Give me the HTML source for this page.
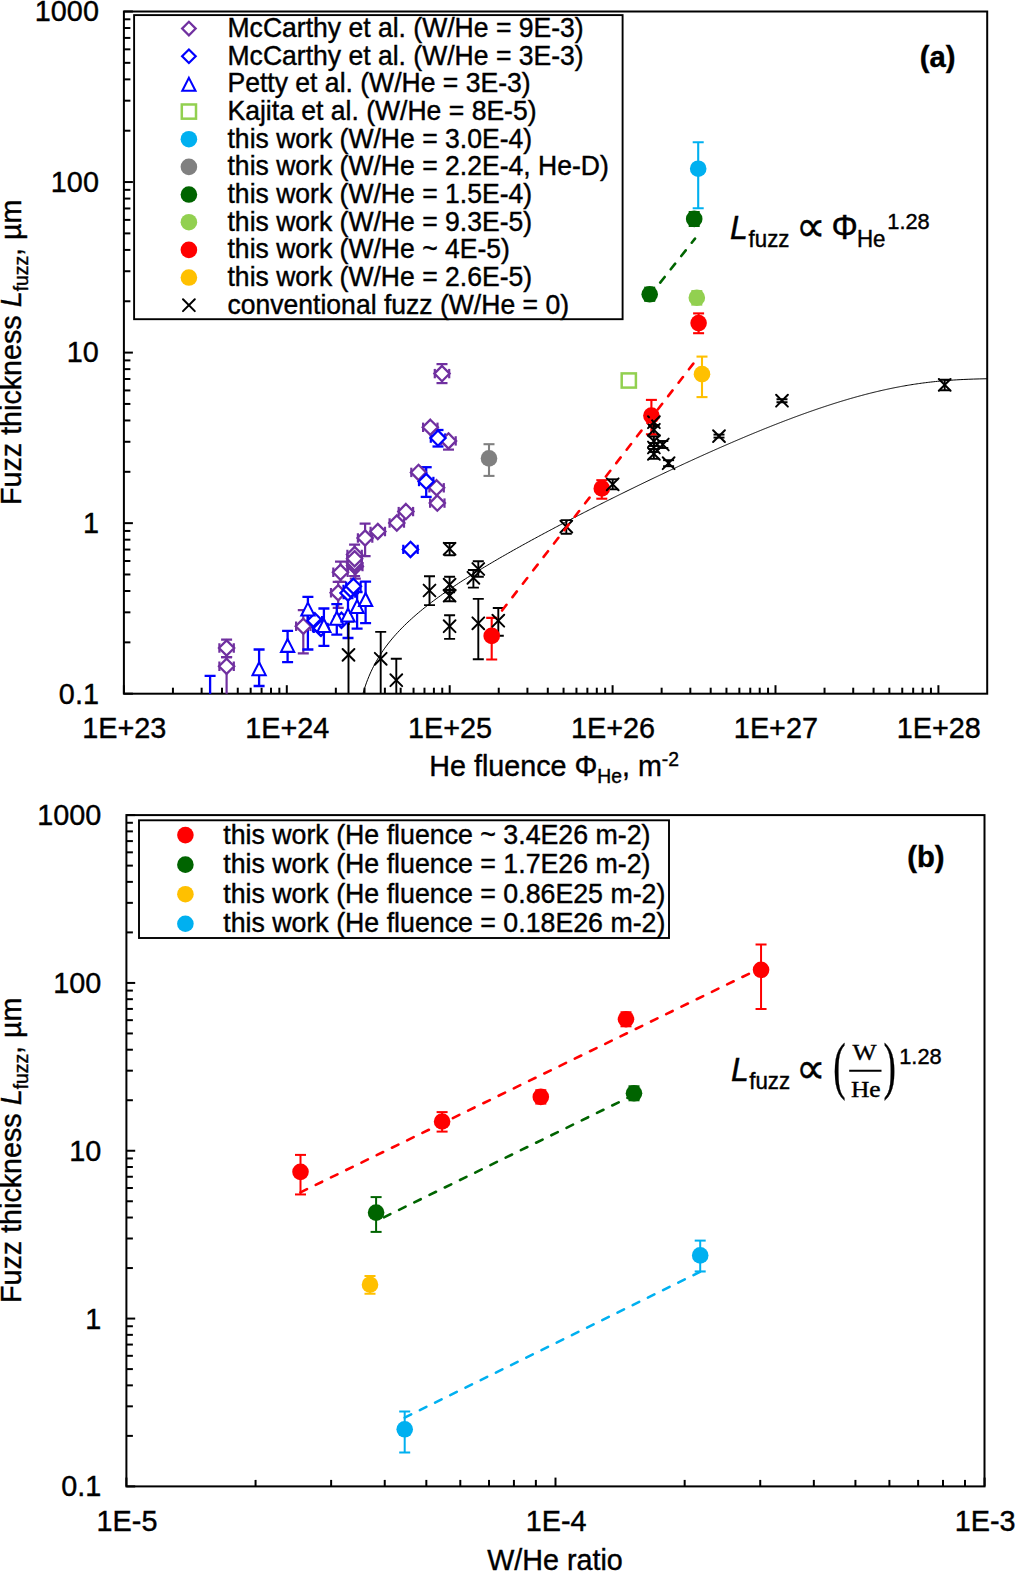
<!DOCTYPE html>
<html lang="en"><head><meta charset="utf-8"><title>Fuzz thickness vs He fluence and W/He ratio</title>
<style>html,body{margin:0;padding:0;background:#fff}svg{display:block}text{font-family:"Liberation Sans", Arial, Helvetica, sans-serif;fill:#000;stroke:#000;stroke-width:0.4px}</style></head><body>
<svg width="1025" height="1572" viewBox="0 0 1025 1572">
<rect width="1025" height="1572" fill="#fff"/>
<g id="plot-a">
<clipPath id="clipA"><rect x="123.9" y="11.5" width="863.3000000000001" height="682.2"/></clipPath>
<rect x="123.9" y="11.5" width="863.3" height="682.2" fill="none" stroke="#000" stroke-width="2.0"/>
<line x1="123.9" y1="11.5" x2="132.9" y2="11.5" stroke="#000" stroke-width="2.0" />
<line x1="123.9" y1="130.71" x2="130.4" y2="130.71" stroke="#000" stroke-width="2.0" />
<line x1="123.9" y1="100.68" x2="130.4" y2="100.68" stroke="#000" stroke-width="2.0" />
<line x1="123.9" y1="79.37" x2="130.4" y2="79.37" stroke="#000" stroke-width="2.0" />
<line x1="123.9" y1="62.84" x2="130.4" y2="62.84" stroke="#000" stroke-width="2.0" />
<line x1="123.9" y1="49.34" x2="130.4" y2="49.34" stroke="#000" stroke-width="2.0" />
<line x1="123.9" y1="37.92" x2="130.4" y2="37.92" stroke="#000" stroke-width="2.0" />
<line x1="123.9" y1="28.03" x2="130.4" y2="28.03" stroke="#000" stroke-width="2.0" />
<line x1="123.9" y1="19.3" x2="130.4" y2="19.3" stroke="#000" stroke-width="2.0" />
<line x1="123.9" y1="182.05" x2="132.9" y2="182.05" stroke="#000" stroke-width="2.0" />
<line x1="123.9" y1="301.26" x2="130.4" y2="301.26" stroke="#000" stroke-width="2.0" />
<line x1="123.9" y1="271.23" x2="130.4" y2="271.23" stroke="#000" stroke-width="2.0" />
<line x1="123.9" y1="249.92" x2="130.4" y2="249.92" stroke="#000" stroke-width="2.0" />
<line x1="123.9" y1="233.39" x2="130.4" y2="233.39" stroke="#000" stroke-width="2.0" />
<line x1="123.9" y1="219.89" x2="130.4" y2="219.89" stroke="#000" stroke-width="2.0" />
<line x1="123.9" y1="208.47" x2="130.4" y2="208.47" stroke="#000" stroke-width="2.0" />
<line x1="123.9" y1="198.58" x2="130.4" y2="198.58" stroke="#000" stroke-width="2.0" />
<line x1="123.9" y1="189.85" x2="130.4" y2="189.85" stroke="#000" stroke-width="2.0" />
<line x1="123.9" y1="352.6" x2="132.9" y2="352.6" stroke="#000" stroke-width="2.0" />
<line x1="123.9" y1="471.81" x2="130.4" y2="471.81" stroke="#000" stroke-width="2.0" />
<line x1="123.9" y1="441.78" x2="130.4" y2="441.78" stroke="#000" stroke-width="2.0" />
<line x1="123.9" y1="420.47" x2="130.4" y2="420.47" stroke="#000" stroke-width="2.0" />
<line x1="123.9" y1="403.94" x2="130.4" y2="403.94" stroke="#000" stroke-width="2.0" />
<line x1="123.9" y1="390.44" x2="130.4" y2="390.44" stroke="#000" stroke-width="2.0" />
<line x1="123.9" y1="379.02" x2="130.4" y2="379.02" stroke="#000" stroke-width="2.0" />
<line x1="123.9" y1="369.13" x2="130.4" y2="369.13" stroke="#000" stroke-width="2.0" />
<line x1="123.9" y1="360.4" x2="130.4" y2="360.4" stroke="#000" stroke-width="2.0" />
<line x1="123.9" y1="523.15" x2="132.9" y2="523.15" stroke="#000" stroke-width="2.0" />
<line x1="123.9" y1="642.36" x2="130.4" y2="642.36" stroke="#000" stroke-width="2.0" />
<line x1="123.9" y1="612.33" x2="130.4" y2="612.33" stroke="#000" stroke-width="2.0" />
<line x1="123.9" y1="591.02" x2="130.4" y2="591.02" stroke="#000" stroke-width="2.0" />
<line x1="123.9" y1="574.49" x2="130.4" y2="574.49" stroke="#000" stroke-width="2.0" />
<line x1="123.9" y1="560.99" x2="130.4" y2="560.99" stroke="#000" stroke-width="2.0" />
<line x1="123.9" y1="549.57" x2="130.4" y2="549.57" stroke="#000" stroke-width="2.0" />
<line x1="123.9" y1="539.68" x2="130.4" y2="539.68" stroke="#000" stroke-width="2.0" />
<line x1="123.9" y1="530.95" x2="130.4" y2="530.95" stroke="#000" stroke-width="2.0" />
<line x1="123.9" y1="693.7" x2="132.9" y2="693.7" stroke="#000" stroke-width="2.0" />
<line x1="123.9" y1="693.7" x2="123.9" y2="685.2" stroke="#000" stroke-width="2.0" />
<line x1="172.94" y1="693.7" x2="172.94" y2="687.7" stroke="#000" stroke-width="2.0" />
<line x1="201.62" y1="693.7" x2="201.62" y2="687.7" stroke="#000" stroke-width="2.0" />
<line x1="221.98" y1="693.7" x2="221.98" y2="687.7" stroke="#000" stroke-width="2.0" />
<line x1="237.76" y1="693.7" x2="237.76" y2="687.7" stroke="#000" stroke-width="2.0" />
<line x1="250.66" y1="693.7" x2="250.66" y2="687.7" stroke="#000" stroke-width="2.0" />
<line x1="261.57" y1="693.7" x2="261.57" y2="687.7" stroke="#000" stroke-width="2.0" />
<line x1="271.01" y1="693.7" x2="271.01" y2="687.7" stroke="#000" stroke-width="2.0" />
<line x1="279.35" y1="693.7" x2="279.35" y2="687.7" stroke="#000" stroke-width="2.0" />
<line x1="286.8" y1="693.7" x2="286.8" y2="685.2" stroke="#000" stroke-width="2.0" />
<line x1="335.84" y1="693.7" x2="335.84" y2="687.7" stroke="#000" stroke-width="2.0" />
<line x1="364.52" y1="693.7" x2="364.52" y2="687.7" stroke="#000" stroke-width="2.0" />
<line x1="384.88" y1="693.7" x2="384.88" y2="687.7" stroke="#000" stroke-width="2.0" />
<line x1="400.66" y1="693.7" x2="400.66" y2="687.7" stroke="#000" stroke-width="2.0" />
<line x1="413.56" y1="693.7" x2="413.56" y2="687.7" stroke="#000" stroke-width="2.0" />
<line x1="424.47" y1="693.7" x2="424.47" y2="687.7" stroke="#000" stroke-width="2.0" />
<line x1="433.91" y1="693.7" x2="433.91" y2="687.7" stroke="#000" stroke-width="2.0" />
<line x1="442.25" y1="693.7" x2="442.25" y2="687.7" stroke="#000" stroke-width="2.0" />
<line x1="449.7" y1="693.7" x2="449.7" y2="685.2" stroke="#000" stroke-width="2.0" />
<line x1="498.74" y1="693.7" x2="498.74" y2="687.7" stroke="#000" stroke-width="2.0" />
<line x1="527.42" y1="693.7" x2="527.42" y2="687.7" stroke="#000" stroke-width="2.0" />
<line x1="547.78" y1="693.7" x2="547.78" y2="687.7" stroke="#000" stroke-width="2.0" />
<line x1="563.56" y1="693.7" x2="563.56" y2="687.7" stroke="#000" stroke-width="2.0" />
<line x1="576.46" y1="693.7" x2="576.46" y2="687.7" stroke="#000" stroke-width="2.0" />
<line x1="587.37" y1="693.7" x2="587.37" y2="687.7" stroke="#000" stroke-width="2.0" />
<line x1="596.81" y1="693.7" x2="596.81" y2="687.7" stroke="#000" stroke-width="2.0" />
<line x1="605.15" y1="693.7" x2="605.15" y2="687.7" stroke="#000" stroke-width="2.0" />
<line x1="612.6" y1="693.7" x2="612.6" y2="685.2" stroke="#000" stroke-width="2.0" />
<line x1="661.64" y1="693.7" x2="661.64" y2="687.7" stroke="#000" stroke-width="2.0" />
<line x1="690.32" y1="693.7" x2="690.32" y2="687.7" stroke="#000" stroke-width="2.0" />
<line x1="710.68" y1="693.7" x2="710.68" y2="687.7" stroke="#000" stroke-width="2.0" />
<line x1="726.46" y1="693.7" x2="726.46" y2="687.7" stroke="#000" stroke-width="2.0" />
<line x1="739.36" y1="693.7" x2="739.36" y2="687.7" stroke="#000" stroke-width="2.0" />
<line x1="750.27" y1="693.7" x2="750.27" y2="687.7" stroke="#000" stroke-width="2.0" />
<line x1="759.71" y1="693.7" x2="759.71" y2="687.7" stroke="#000" stroke-width="2.0" />
<line x1="768.05" y1="693.7" x2="768.05" y2="687.7" stroke="#000" stroke-width="2.0" />
<line x1="775.5" y1="693.7" x2="775.5" y2="685.2" stroke="#000" stroke-width="2.0" />
<line x1="824.54" y1="693.7" x2="824.54" y2="687.7" stroke="#000" stroke-width="2.0" />
<line x1="853.22" y1="693.7" x2="853.22" y2="687.7" stroke="#000" stroke-width="2.0" />
<line x1="873.58" y1="693.7" x2="873.58" y2="687.7" stroke="#000" stroke-width="2.0" />
<line x1="889.36" y1="693.7" x2="889.36" y2="687.7" stroke="#000" stroke-width="2.0" />
<line x1="902.26" y1="693.7" x2="902.26" y2="687.7" stroke="#000" stroke-width="2.0" />
<line x1="913.17" y1="693.7" x2="913.17" y2="687.7" stroke="#000" stroke-width="2.0" />
<line x1="922.61" y1="693.7" x2="922.61" y2="687.7" stroke="#000" stroke-width="2.0" />
<line x1="930.95" y1="693.7" x2="930.95" y2="687.7" stroke="#000" stroke-width="2.0" />
<line x1="938.4" y1="693.7" x2="938.4" y2="685.2" stroke="#000" stroke-width="2.0" />
<text transform="translate(98.9 21.3) scale(1 1.04)" font-size="28.8" text-anchor="end" >1000</text>
<text transform="translate(98.9 191.85) scale(1 1.04)" font-size="28.8" text-anchor="end" >100</text>
<text transform="translate(98.9 362.4) scale(1 1.04)" font-size="28.8" text-anchor="end" >10</text>
<text transform="translate(98.9 532.95) scale(1 1.04)" font-size="28.8" text-anchor="end" >1</text>
<text transform="translate(98.9 703.5) scale(1 1.04)" font-size="28.8" text-anchor="end" >0.1</text>
<text transform="translate(124.3 738.4) scale(1 1.04)" font-size="28.8" text-anchor="middle" >1E+23</text>
<text transform="translate(287.2 738.4) scale(1 1.04)" font-size="28.8" text-anchor="middle" >1E+24</text>
<text transform="translate(450.1 738.4) scale(1 1.04)" font-size="28.8" text-anchor="middle" >1E+25</text>
<text transform="translate(613 738.4) scale(1 1.04)" font-size="28.8" text-anchor="middle" >1E+26</text>
<text transform="translate(775.9 738.4) scale(1 1.04)" font-size="28.8" text-anchor="middle" >1E+27</text>
<text transform="translate(938.8 738.4) scale(1 1.04)" font-size="28.8" text-anchor="middle" >1E+28</text>
<text transform="translate(429.3 775.5) scale(1 1.04)" font-size="28.7">He fluence Φ<tspan font-size="19.3" dy="6.8">He</tspan><tspan dy="-6.8">, m</tspan><tspan font-size="19.3" dy="-8.7">-2</tspan></text>
<text transform="translate(20.8 505) rotate(-90) scale(1 1.04)" font-size="28.7">Fuzz thickness <tspan font-style="italic">L</tspan><tspan font-size="19.3" dy="7.3">fuzz</tspan><tspan dy="-7.3">, µm</tspan></text>
<path clip-path="url(#clipA)" d="M360.29 704.19L361.08 700.78L361.91 697.46L362.78 694.24L363.69 691.11L364.64 688.06L365.63 685.1L366.65 682.21L367.72 679.4L368.83 676.66L369.97 673.98L371.15 671.37L372.37 668.81L373.62 666.32L374.9 663.87L376.22 661.48L377.58 659.15L378.96 656.85L380.37 654.61L381.82 652.41L383.29 650.25L384.79 648.14L386.31 646.06L387.86 644.02L389.43 642.02L391.03 640.05L392.65 638.12L394.28 636.22L395.94 634.35L397.61 632.52L399.3 630.71L401.01 628.93L402.72 627.18L404.46 625.46L406.2 623.76L407.96 622.09L409.72 620.45L411.5 618.83L413.28 617.23L415.08 615.65L416.87 614.1L418.68 612.56L420.49 611.05L422.3 609.56L424.12 608.09L425.94 606.64L427.76 605.2L429.58 603.79L431.41 602.39L433.23 601.01L435.05 599.65L436.88 598.3L438.7 596.97L440.52 595.66L442.34 594.36L444.15 593.07L445.97 591.8L447.78 590.55L449.58 589.3L451.38 588.08L453.18 586.86L454.97 585.66L456.76 584.47L458.54 583.3L460.32 582.13L462.09 580.98L463.86 579.84L465.62 578.72L467.37 577.6L469.12 576.49L470.86 575.4L472.59 574.31L474.32 573.24L476.04 572.18L477.75 571.13L479.46 570.08L481.16 569.05L482.85 568.02L484.53 567.01L486.21 566L487.88 565.01L489.54 564.02L491.19 563.04L492.84 562.07L494.48 561.11L496.11 560.16L497.73 559.21L499.35 558.27L500.96 557.34L502.56 556.42L504.15 555.51L505.74 554.6L507.31 553.7L508.88 552.81L510.45 551.92L512 551.04L513.55 550.17L515.09 549.31L516.62 548.45L518.14 547.6L519.66 546.75L521.17 545.91L522.67 545.08L524.17 544.26L525.66 543.44L527.14 542.62L528.61 541.81L530.07 541.01L531.53 540.22L532.98 539.42L534.43 538.64L535.86 537.86L537.29 537.09L538.72 536.32L540.13 535.55L541.54 534.79L542.94 534.04L544.34 533.29L545.73 532.55L547.11 531.81L548.49 531.08L549.86 530.35L551.22 529.63L552.57 528.91L553.92 528.19L555.27 527.48L556.6 526.78L557.93 526.08L559.26 525.38L560.58 524.69L561.89 524L563.19 523.32L564.49 522.64L565.79 521.96L567.08 521.29L568.36 520.62L569.63 519.96L570.9 519.3L572.17 518.64L573.43 517.99L574.68 517.34L575.93 516.7L577.17 516.06L578.41 515.42L579.64 514.79L580.87 514.16L582.09 513.54L583.3 512.91L584.51 512.29L585.72 511.68L586.92 511.07L588.11 510.46L589.3 509.85L590.48 509.25L591.66 508.65L592.84 508.06L594.01 507.46L595.17 506.87L596.33 506.29L597.49 505.7L598.64 505.12L599.78 504.55L600.92 503.97L602.06 503.4L603.19 502.83L604.32 502.27L605.44 501.7L606.56 501.14L607.68 500.59L608.79 500.03L609.89 499.48L610.99 498.93L612.09 498.39L613.18 497.84L614.27 497.3L615.35 496.77L616.43 496.23L617.51 495.7L618.58 495.17L619.65 494.64L620.71 494.11L621.77 493.59L622.83 493.07L623.88 492.55L624.93 492.04L625.98 491.52L627.02 491.01L628.05 490.5L629.09 490L630.12 489.49L631.14 488.99L632.17 488.49L633.19 488L634.2 487.5L635.21 487.01L636.22 486.52L637.23 486.03L638.23 485.54L639.23 485.06L640.22 484.58L641.21 484.1L642.2 483.62L643.19 483.14L644.17 482.67L645.15 482.2L646.12 481.73L647.1 481.26L648.06 480.8L649.03 480.33L649.99 479.87L650.95 479.41L651.91 478.95L652.86 478.49L653.82 478.04L654.76 477.59L655.71 477.14L656.65 476.69L657.59 476.24L658.53 475.8L659.46 475.35L660.39 474.91L661.32 474.47L662.25 474.03L663.17 473.6L664.09 473.16L665.01 472.73L665.92 472.3L666.83 471.87L667.74 471.44L668.65 471.01L669.55 470.59L670.46 470.16L671.35 469.74L672.25 469.32L673.15 468.9L674.04 468.49L674.93 468.07L675.81 467.66L676.7 467.25L677.58 466.83L678.46 466.43L679.34 466.02L680.21 465.61L681.09 465.21L681.96 464.8L682.83 464.4L683.69 464L684.56 463.6L685.42 463.2L686.28 462.81L687.13 462.41L687.99 462.02L688.84 461.63L689.69 461.24L690.54 460.85L691.39 460.46L692.24 460.07L693.08 459.69L693.92 459.31L694.76 458.92L695.6 458.54L696.43 458.16L697.26 457.78L698.1 457.41L698.93 457.03L699.75 456.66L700.58 456.28L701.4 455.91L702.22 455.54L703.04 455.17L703.86 454.8L704.68 454.43L705.49 454.07L706.31 453.7L707.12 453.34L707.93 452.98L708.74 452.62L709.54 452.26L710.35 451.9L711.15 451.54L711.95 451.18L712.75 450.83L713.55 450.47L714.35 450.12L715.14 449.77L715.93 449.42L716.73 449.07L717.52 448.72L718.3 448.37L719.09 448.02L719.88 447.68L720.66 447.33L721.44 446.99L722.23 446.65L723.01 446.31L723.78 445.96L724.56 445.63L725.34 445.29L726.11 444.95L726.89 444.61L727.66 444.28L728.43 443.94L729.2 443.61L729.96 443.28L730.73 442.95L731.5 442.62L732.26 442.29L733.02 441.96L733.78 441.63L734.55 441.31L735.3 440.98L736.06 440.66L736.82 440.33L737.57 440.01L738.33 439.69L739.08 439.37L739.83 439.05L740.59 438.73L741.34 438.41L742.08 438.1L742.83 437.78L743.58 437.46L744.33 437.15L745.07 436.84L745.81 436.52L746.56 436.21L747.3 435.9L748.04 435.59L748.78 435.28L749.52 434.97L750.26 434.67L750.99 434.36L751.73 434.06L752.46 433.75L753.2 433.45L753.93 433.14L754.66 432.84L755.4 432.54L756.13 432.24L756.86 431.94L757.59 431.64L758.32 431.34L759.04 431.04L759.77 430.75L760.5 430.45L761.22 430.16L761.95 429.86L762.67 429.57L763.39 429.28L764.12 428.98L764.84 428.69L765.56 428.4L766.28 428.11L767 427.82L767.72 427.54L768.44 427.25L769.16 426.96L769.88 426.68L770.59 426.39L771.31 426.11L772.03 425.82L772.74 425.54L773.46 425.26L774.17 424.97L774.88 424.69L775.6 424.41L776.31 424.13L777.02 423.86L777.74 423.58L778.45 423.3L779.16 423.02L779.87 422.75L780.58 422.47L781.29 422.2L782 421.92L782.71 421.65L783.42 421.38L784.13 421.1L784.84 420.83L785.54 420.56L786.25 420.29L786.96 420.02L787.67 419.75L788.38 419.49L789.08 419.22L789.79 418.95L790.5 418.69L791.2 418.42L791.91 418.16L792.62 417.89L793.32 417.63L794.03 417.37L794.73 417.1L795.44 416.84L796.15 416.58L796.85 416.32L797.56 416.06L798.26 415.8L798.97 415.54L799.68 415.28L800.38 415.03L801.09 414.77L801.79 414.51L802.5 414.26L803.21 414L803.91 413.75L804.62 413.49L805.33 413.24L806.03 412.99L806.74 412.74L807.45 412.48L808.16 412.23L808.86 411.98L809.57 411.73L810.28 411.48L810.99 411.23L811.7 410.99L812.41 410.74L813.12 410.49L813.83 410.24L814.54 410L815.25 409.75L815.96 409.51L816.68 409.26L817.39 409.02L818.1 408.78L818.82 408.53L819.53 408.29L820.24 408.05L820.96 407.81L821.68 407.57L822.39 407.33L823.11 407.09L823.83 406.85L824.55 406.61L825.27 406.37L825.99 406.13L826.71 405.9L827.43 405.66L828.16 405.42L828.88 405.19L829.61 404.95L830.33 404.72L831.06 404.48L831.79 404.25L832.52 404.02L833.25 403.78L833.98 403.55L834.71 403.32L835.45 403.09L836.18 402.86L836.92 402.63L837.66 402.4L838.4 402.17L839.14 401.94L839.88 401.71L840.62 401.48L841.37 401.26L842.12 401.03L842.86 400.8L843.61 400.58L844.36 400.35L845.12 400.13L845.87 399.9L846.63 399.68L847.39 399.45L848.15 399.23L848.91 399.01L849.68 398.78L850.44 398.56L851.21 398.34L851.98 398.12L852.76 397.9L853.53 397.68L854.31 397.46L855.09 397.24L855.87 397.02L856.66 396.8L857.44 396.58L858.23 396.37L859.03 396.15L859.82 395.93L860.62 395.72L861.42 395.5L862.23 395.29L863.04 395.07L863.85 394.86L864.66 394.64L865.48 394.43L866.3 394.21L867.13 394L867.96 393.79L868.79 393.58L869.63 393.36L870.47 393.15L871.31 392.94L872.16 392.73L873.02 392.52L873.87 392.31L874.74 392.1L875.6 391.89L876.48 391.68L877.35 391.48L878.24 391.27L879.12 391.06L880.02 390.85L880.92 390.65L881.82 390.44L882.73 390.23L883.65 390.03L884.58 389.82L885.51 389.62L886.45 389.41L887.39 389.21L888.35 389.01L889.31 388.8L890.28 388.6L891.25 388.4L892.24 388.2L893.23 387.99L894.24 387.79L895.25 387.59L896.28 387.39L897.31 387.19L898.36 386.99L899.42 386.79L900.48 386.59L901.57 386.39L902.66 386.19L903.77 386L904.89 385.8L906.03 385.6L907.19 385.4L908.36 385.21L909.54 385.01L910.75 384.81L911.98 384.62L913.22 384.42L914.49 384.23L915.79 384.03L917.1 383.84L918.44 383.64L919.82 383.45L921.22 383.26L922.65 383.06L924.12 382.87L925.62 382.68L927.17 382.49L928.76 382.29L930.39 382.1L932.08 381.91L933.83 381.72L935.64 381.53L937.53 381.34L939.49 381.15L941.55 380.96L943.7 380.77L945.98 380.58L948.4 380.4L950.98 380.21L953.75 380.02L956.78 379.83L960.11 379.65L963.85 379.46L968.16 379.27L973.3 379.09L979.84 378.9L989.31 378.71" fill="none" stroke="#000" stroke-width="1.0"/>
<g clip-path="url(#clipA)">
<line x1="226.6" y1="657.2" x2="226.6" y2="700" stroke="#7030A0" stroke-width="2.2" />
<line x1="221.1" y1="657.2" x2="232.1" y2="657.2" stroke="#7030A0" stroke-width="2.2" />
<line x1="221.1" y1="700" x2="232.1" y2="700" stroke="#7030A0" stroke-width="2.2" />
<line x1="219.4" y1="666.3" x2="233.8" y2="666.3" stroke="#7030A0" stroke-width="2.2" />
<line x1="219.4" y1="661.6" x2="219.4" y2="671" stroke="#7030A0" stroke-width="2.2" />
<line x1="233.8" y1="661.6" x2="233.8" y2="671" stroke="#7030A0" stroke-width="2.2" />
<line x1="226.6" y1="639.7" x2="226.6" y2="657.2" stroke="#7030A0" stroke-width="2.2" />
<line x1="221.1" y1="639.7" x2="232.1" y2="639.7" stroke="#7030A0" stroke-width="2.2" />
<line x1="221.1" y1="657.2" x2="232.1" y2="657.2" stroke="#7030A0" stroke-width="2.2" />
<line x1="219.4" y1="648" x2="233.8" y2="648" stroke="#7030A0" stroke-width="2.2" />
<line x1="219.4" y1="643.3" x2="219.4" y2="652.7" stroke="#7030A0" stroke-width="2.2" />
<line x1="233.8" y1="643.3" x2="233.8" y2="652.7" stroke="#7030A0" stroke-width="2.2" />
<line x1="303.3" y1="610.1" x2="303.3" y2="653.3" stroke="#7030A0" stroke-width="2.2" />
<line x1="297.8" y1="610.1" x2="308.8" y2="610.1" stroke="#7030A0" stroke-width="2.2" />
<line x1="297.8" y1="653.3" x2="308.8" y2="653.3" stroke="#7030A0" stroke-width="2.2" />
<line x1="296.1" y1="626.3" x2="310.5" y2="626.3" stroke="#7030A0" stroke-width="2.2" />
<line x1="296.1" y1="621.6" x2="296.1" y2="631" stroke="#7030A0" stroke-width="2.2" />
<line x1="310.5" y1="621.6" x2="310.5" y2="631" stroke="#7030A0" stroke-width="2.2" />
<line x1="338.2" y1="581.8" x2="338.2" y2="607.8" stroke="#7030A0" stroke-width="2.2" />
<line x1="332.7" y1="581.8" x2="343.7" y2="581.8" stroke="#7030A0" stroke-width="2.2" />
<line x1="332.7" y1="607.8" x2="343.7" y2="607.8" stroke="#7030A0" stroke-width="2.2" />
<line x1="331" y1="592.7" x2="345.4" y2="592.7" stroke="#7030A0" stroke-width="2.2" />
<line x1="331" y1="588" x2="331" y2="597.4" stroke="#7030A0" stroke-width="2.2" />
<line x1="345.4" y1="588" x2="345.4" y2="597.4" stroke="#7030A0" stroke-width="2.2" />
<line x1="340.5" y1="561.6" x2="340.5" y2="581.8" stroke="#7030A0" stroke-width="2.2" />
<line x1="335" y1="561.6" x2="346" y2="561.6" stroke="#7030A0" stroke-width="2.2" />
<line x1="335" y1="581.8" x2="346" y2="581.8" stroke="#7030A0" stroke-width="2.2" />
<line x1="333.3" y1="572.2" x2="347.7" y2="572.2" stroke="#7030A0" stroke-width="2.2" />
<line x1="333.3" y1="567.5" x2="333.3" y2="576.9" stroke="#7030A0" stroke-width="2.2" />
<line x1="347.7" y1="567.5" x2="347.7" y2="576.9" stroke="#7030A0" stroke-width="2.2" />
<line x1="354.6" y1="544.7" x2="354.6" y2="554.5" stroke="#7030A0" stroke-width="2.2" />
<line x1="349.1" y1="544.7" x2="360.1" y2="544.7" stroke="#7030A0" stroke-width="2.2" />
<line x1="349.1" y1="554.5" x2="360.1" y2="554.5" stroke="#7030A0" stroke-width="2.2" />
<line x1="347.4" y1="554.5" x2="361.8" y2="554.5" stroke="#7030A0" stroke-width="2.2" />
<line x1="347.4" y1="549.8" x2="347.4" y2="559.2" stroke="#7030A0" stroke-width="2.2" />
<line x1="361.8" y1="549.8" x2="361.8" y2="559.2" stroke="#7030A0" stroke-width="2.2" />
<line x1="355.3" y1="566.6" x2="355.3" y2="578.6" stroke="#7030A0" stroke-width="2.2" />
<line x1="349.8" y1="566.6" x2="360.8" y2="566.6" stroke="#7030A0" stroke-width="2.2" />
<line x1="349.8" y1="578.6" x2="360.8" y2="578.6" stroke="#7030A0" stroke-width="2.2" />
<line x1="348.1" y1="566.6" x2="362.5" y2="566.6" stroke="#7030A0" stroke-width="2.2" />
<line x1="348.1" y1="561.9" x2="348.1" y2="571.3" stroke="#7030A0" stroke-width="2.2" />
<line x1="362.5" y1="561.9" x2="362.5" y2="571.3" stroke="#7030A0" stroke-width="2.2" />
<line x1="354.6" y1="565.5" x2="354.6" y2="576" stroke="#7030A0" stroke-width="2.2" />
<line x1="349.1" y1="565.5" x2="360.1" y2="565.5" stroke="#7030A0" stroke-width="2.2" />
<line x1="349.1" y1="576" x2="360.1" y2="576" stroke="#7030A0" stroke-width="2.2" />
<line x1="347.4" y1="565.5" x2="361.8" y2="565.5" stroke="#7030A0" stroke-width="2.2" />
<line x1="347.4" y1="560.8" x2="347.4" y2="570.2" stroke="#7030A0" stroke-width="2.2" />
<line x1="361.8" y1="560.8" x2="361.8" y2="570.2" stroke="#7030A0" stroke-width="2.2" />
<line x1="347.4" y1="562.9" x2="361.8" y2="562.9" stroke="#7030A0" stroke-width="2.2" />
<line x1="347.4" y1="558.2" x2="347.4" y2="567.6" stroke="#7030A0" stroke-width="2.2" />
<line x1="361.8" y1="558.2" x2="361.8" y2="567.6" stroke="#7030A0" stroke-width="2.2" />
<line x1="347.4" y1="558.7" x2="361.8" y2="558.7" stroke="#7030A0" stroke-width="2.2" />
<line x1="347.4" y1="554" x2="347.4" y2="563.4" stroke="#7030A0" stroke-width="2.2" />
<line x1="361.8" y1="554" x2="361.8" y2="563.4" stroke="#7030A0" stroke-width="2.2" />
<line x1="365.1" y1="523.7" x2="365.1" y2="556.1" stroke="#7030A0" stroke-width="2.2" />
<line x1="359.6" y1="523.7" x2="370.6" y2="523.7" stroke="#7030A0" stroke-width="2.2" />
<line x1="359.6" y1="556.1" x2="370.6" y2="556.1" stroke="#7030A0" stroke-width="2.2" />
<line x1="357.9" y1="538" x2="372.3" y2="538" stroke="#7030A0" stroke-width="2.2" />
<line x1="357.9" y1="533.3" x2="357.9" y2="542.7" stroke="#7030A0" stroke-width="2.2" />
<line x1="372.3" y1="533.3" x2="372.3" y2="542.7" stroke="#7030A0" stroke-width="2.2" />
<line x1="370.6" y1="531.5" x2="385" y2="531.5" stroke="#7030A0" stroke-width="2.2" />
<line x1="370.6" y1="526.8" x2="370.6" y2="536.2" stroke="#7030A0" stroke-width="2.2" />
<line x1="385" y1="526.8" x2="385" y2="536.2" stroke="#7030A0" stroke-width="2.2" />
<line x1="389.6" y1="523" x2="404" y2="523" stroke="#7030A0" stroke-width="2.2" />
<line x1="389.6" y1="518.3" x2="389.6" y2="527.7" stroke="#7030A0" stroke-width="2.2" />
<line x1="404" y1="518.3" x2="404" y2="527.7" stroke="#7030A0" stroke-width="2.2" />
<line x1="398.7" y1="511.6" x2="413.1" y2="511.6" stroke="#7030A0" stroke-width="2.2" />
<line x1="398.7" y1="506.9" x2="398.7" y2="516.3" stroke="#7030A0" stroke-width="2.2" />
<line x1="413.1" y1="506.9" x2="413.1" y2="516.3" stroke="#7030A0" stroke-width="2.2" />
<line x1="430.1" y1="503.1" x2="444.5" y2="503.1" stroke="#7030A0" stroke-width="2.2" />
<line x1="430.1" y1="498.4" x2="430.1" y2="507.8" stroke="#7030A0" stroke-width="2.2" />
<line x1="444.5" y1="498.4" x2="444.5" y2="507.8" stroke="#7030A0" stroke-width="2.2" />
<line x1="429.4" y1="487.8" x2="443.8" y2="487.8" stroke="#7030A0" stroke-width="2.2" />
<line x1="429.4" y1="483.1" x2="429.4" y2="492.5" stroke="#7030A0" stroke-width="2.2" />
<line x1="443.8" y1="483.1" x2="443.8" y2="492.5" stroke="#7030A0" stroke-width="2.2" />
<line x1="411.3" y1="472.4" x2="425.7" y2="472.4" stroke="#7030A0" stroke-width="2.2" />
<line x1="411.3" y1="467.7" x2="411.3" y2="477.1" stroke="#7030A0" stroke-width="2.2" />
<line x1="425.7" y1="467.7" x2="425.7" y2="477.1" stroke="#7030A0" stroke-width="2.2" />
<line x1="448.5" y1="440.9" x2="448.5" y2="449.6" stroke="#7030A0" stroke-width="2.2" />
<line x1="443" y1="440.9" x2="454" y2="440.9" stroke="#7030A0" stroke-width="2.2" />
<line x1="443" y1="449.6" x2="454" y2="449.6" stroke="#7030A0" stroke-width="2.2" />
<line x1="441.3" y1="440.9" x2="455.7" y2="440.9" stroke="#7030A0" stroke-width="2.2" />
<line x1="441.3" y1="436.2" x2="441.3" y2="445.6" stroke="#7030A0" stroke-width="2.2" />
<line x1="455.7" y1="436.2" x2="455.7" y2="445.6" stroke="#7030A0" stroke-width="2.2" />
<line x1="423.1" y1="427.3" x2="437.5" y2="427.3" stroke="#7030A0" stroke-width="2.2" />
<line x1="423.1" y1="422.6" x2="423.1" y2="432" stroke="#7030A0" stroke-width="2.2" />
<line x1="437.5" y1="422.6" x2="437.5" y2="432" stroke="#7030A0" stroke-width="2.2" />
<line x1="442" y1="364.1" x2="442" y2="383.1" stroke="#7030A0" stroke-width="2.2" />
<line x1="436.5" y1="364.1" x2="447.5" y2="364.1" stroke="#7030A0" stroke-width="2.2" />
<line x1="436.5" y1="383.1" x2="447.5" y2="383.1" stroke="#7030A0" stroke-width="2.2" />
<line x1="434.8" y1="373.6" x2="449.2" y2="373.6" stroke="#7030A0" stroke-width="2.2" />
<line x1="434.8" y1="368.9" x2="434.8" y2="378.3" stroke="#7030A0" stroke-width="2.2" />
<line x1="449.2" y1="368.9" x2="449.2" y2="378.3" stroke="#7030A0" stroke-width="2.2" />
<line x1="307.7" y1="620.8" x2="322.1" y2="620.8" stroke="#0000FF" stroke-width="2.2" />
<line x1="307.7" y1="616.1" x2="307.7" y2="625.5" stroke="#0000FF" stroke-width="2.2" />
<line x1="322.1" y1="616.1" x2="322.1" y2="625.5" stroke="#0000FF" stroke-width="2.2" />
<line x1="313" y1="627.5" x2="327.4" y2="627.5" stroke="#0000FF" stroke-width="2.2" />
<line x1="313" y1="622.8" x2="313" y2="632.2" stroke="#0000FF" stroke-width="2.2" />
<line x1="327.4" y1="622.8" x2="327.4" y2="632.2" stroke="#0000FF" stroke-width="2.2" />
<line x1="313.8" y1="628.3" x2="328.2" y2="628.3" stroke="#0000FF" stroke-width="2.2" />
<line x1="313.8" y1="623.6" x2="313.8" y2="633" stroke="#0000FF" stroke-width="2.2" />
<line x1="328.2" y1="623.6" x2="328.2" y2="633" stroke="#0000FF" stroke-width="2.2" />
<line x1="334.3" y1="620.3" x2="348.7" y2="620.3" stroke="#0000FF" stroke-width="2.2" />
<line x1="334.3" y1="615.6" x2="334.3" y2="625" stroke="#0000FF" stroke-width="2.2" />
<line x1="348.7" y1="615.6" x2="348.7" y2="625" stroke="#0000FF" stroke-width="2.2" />
<line x1="340.8" y1="593" x2="355.2" y2="593" stroke="#0000FF" stroke-width="2.2" />
<line x1="340.8" y1="588.3" x2="340.8" y2="597.7" stroke="#0000FF" stroke-width="2.2" />
<line x1="355.2" y1="588.3" x2="355.2" y2="597.7" stroke="#0000FF" stroke-width="2.2" />
<line x1="343.5" y1="589.5" x2="357.9" y2="589.5" stroke="#0000FF" stroke-width="2.2" />
<line x1="343.5" y1="584.8" x2="343.5" y2="594.2" stroke="#0000FF" stroke-width="2.2" />
<line x1="357.9" y1="584.8" x2="357.9" y2="594.2" stroke="#0000FF" stroke-width="2.2" />
<line x1="346.2" y1="586.3" x2="360.6" y2="586.3" stroke="#0000FF" stroke-width="2.2" />
<line x1="346.2" y1="581.6" x2="346.2" y2="591" stroke="#0000FF" stroke-width="2.2" />
<line x1="360.6" y1="581.6" x2="360.6" y2="591" stroke="#0000FF" stroke-width="2.2" />
<line x1="403.3" y1="549.4" x2="417.7" y2="549.4" stroke="#0000FF" stroke-width="2.2" />
<line x1="403.3" y1="544.7" x2="403.3" y2="554.1" stroke="#0000FF" stroke-width="2.2" />
<line x1="417.7" y1="544.7" x2="417.7" y2="554.1" stroke="#0000FF" stroke-width="2.2" />
<line x1="426.2" y1="467.2" x2="426.2" y2="496.9" stroke="#0000FF" stroke-width="2.3" />
<line x1="420.7" y1="467.2" x2="431.7" y2="467.2" stroke="#0000FF" stroke-width="2.3" />
<line x1="420.7" y1="496.9" x2="431.7" y2="496.9" stroke="#0000FF" stroke-width="2.3" />
<line x1="419" y1="481.5" x2="433.4" y2="481.5" stroke="#0000FF" stroke-width="2.2" />
<line x1="419" y1="476.8" x2="419" y2="486.2" stroke="#0000FF" stroke-width="2.2" />
<line x1="433.4" y1="476.8" x2="433.4" y2="486.2" stroke="#0000FF" stroke-width="2.2" />
<line x1="438" y1="430" x2="438" y2="446.5" stroke="#0000FF" stroke-width="2.3" />
<line x1="432.5" y1="430" x2="443.5" y2="430" stroke="#0000FF" stroke-width="2.3" />
<line x1="432.5" y1="446.5" x2="443.5" y2="446.5" stroke="#0000FF" stroke-width="2.3" />
<line x1="430.8" y1="438.1" x2="445.2" y2="438.1" stroke="#0000FF" stroke-width="2.2" />
<line x1="430.8" y1="433.4" x2="430.8" y2="442.8" stroke="#0000FF" stroke-width="2.2" />
<line x1="445.2" y1="433.4" x2="445.2" y2="442.8" stroke="#0000FF" stroke-width="2.2" />
<line x1="210.1" y1="675.9" x2="210.1" y2="705" stroke="#0000FF" stroke-width="2.3" />
<line x1="204.6" y1="675.9" x2="215.6" y2="675.9" stroke="#0000FF" stroke-width="2.3" />
<line x1="204.6" y1="705" x2="215.6" y2="705" stroke="#0000FF" stroke-width="2.3" />
<line x1="259.1" y1="649.5" x2="259.1" y2="686" stroke="#0000FF" stroke-width="2.3" />
<line x1="253.6" y1="649.5" x2="264.6" y2="649.5" stroke="#0000FF" stroke-width="2.3" />
<line x1="253.6" y1="686" x2="264.6" y2="686" stroke="#0000FF" stroke-width="2.3" />
<line x1="287.6" y1="630.8" x2="287.6" y2="662.1" stroke="#0000FF" stroke-width="2.3" />
<line x1="282.1" y1="630.8" x2="293.1" y2="630.8" stroke="#0000FF" stroke-width="2.3" />
<line x1="282.1" y1="662.1" x2="293.1" y2="662.1" stroke="#0000FF" stroke-width="2.3" />
<line x1="307.9" y1="596.9" x2="307.9" y2="649.5" stroke="#0000FF" stroke-width="2.3" />
<line x1="302.4" y1="596.9" x2="313.4" y2="596.9" stroke="#0000FF" stroke-width="2.3" />
<line x1="302.4" y1="649.5" x2="313.4" y2="649.5" stroke="#0000FF" stroke-width="2.3" />
<line x1="323.9" y1="608.5" x2="323.9" y2="645.8" stroke="#0000FF" stroke-width="2.3" />
<line x1="318.4" y1="608.5" x2="329.4" y2="608.5" stroke="#0000FF" stroke-width="2.3" />
<line x1="318.4" y1="645.8" x2="329.4" y2="645.8" stroke="#0000FF" stroke-width="2.3" />
<line x1="336.8" y1="604.1" x2="336.8" y2="634.7" stroke="#0000FF" stroke-width="2.3" />
<line x1="331.3" y1="604.1" x2="342.3" y2="604.1" stroke="#0000FF" stroke-width="2.3" />
<line x1="331.3" y1="634.7" x2="342.3" y2="634.7" stroke="#0000FF" stroke-width="2.3" />
<line x1="348" y1="598" x2="348" y2="638" stroke="#0000FF" stroke-width="2.3" />
<line x1="342.5" y1="598" x2="353.5" y2="598" stroke="#0000FF" stroke-width="2.3" />
<line x1="342.5" y1="638" x2="353.5" y2="638" stroke="#0000FF" stroke-width="2.3" />
<line x1="357.1" y1="592" x2="357.1" y2="628.6" stroke="#0000FF" stroke-width="2.3" />
<line x1="351.6" y1="592" x2="362.6" y2="592" stroke="#0000FF" stroke-width="2.3" />
<line x1="351.6" y1="628.6" x2="362.6" y2="628.6" stroke="#0000FF" stroke-width="2.3" />
<line x1="365.6" y1="581.7" x2="365.6" y2="623.2" stroke="#0000FF" stroke-width="2.3" />
<line x1="360.1" y1="581.7" x2="371.1" y2="581.7" stroke="#0000FF" stroke-width="2.3" />
<line x1="360.1" y1="623.2" x2="371.1" y2="623.2" stroke="#0000FF" stroke-width="2.3" />
<line x1="348.5" y1="621.5" x2="348.5" y2="700" stroke="#000" stroke-width="1.9" />
<line x1="343" y1="621.5" x2="354" y2="621.5" stroke="#000" stroke-width="1.9" />
<line x1="343" y1="700" x2="354" y2="700" stroke="#000" stroke-width="1.9" />
<line x1="380.7" y1="631.9" x2="380.7" y2="700" stroke="#000" stroke-width="1.9" />
<line x1="375.2" y1="631.9" x2="386.2" y2="631.9" stroke="#000" stroke-width="1.9" />
<line x1="375.2" y1="700" x2="386.2" y2="700" stroke="#000" stroke-width="1.9" />
<line x1="396.3" y1="658.8" x2="396.3" y2="700" stroke="#000" stroke-width="1.9" />
<line x1="390.8" y1="658.8" x2="401.8" y2="658.8" stroke="#000" stroke-width="1.9" />
<line x1="390.8" y1="700" x2="401.8" y2="700" stroke="#000" stroke-width="1.9" />
<line x1="429.5" y1="576.2" x2="429.5" y2="605.1" stroke="#000" stroke-width="1.9" />
<line x1="424" y1="576.2" x2="435" y2="576.2" stroke="#000" stroke-width="1.9" />
<line x1="424" y1="605.1" x2="435" y2="605.1" stroke="#000" stroke-width="1.9" />
<line x1="449.6" y1="543" x2="449.6" y2="555.2" stroke="#000" stroke-width="1.9" />
<line x1="444.1" y1="543" x2="455.1" y2="543" stroke="#000" stroke-width="1.9" />
<line x1="444.1" y1="555.2" x2="455.1" y2="555.2" stroke="#000" stroke-width="1.9" />
<line x1="449.6" y1="576.8" x2="449.6" y2="592.4" stroke="#000" stroke-width="1.9" />
<line x1="444.1" y1="576.8" x2="455.1" y2="576.8" stroke="#000" stroke-width="1.9" />
<line x1="444.1" y1="592.4" x2="455.1" y2="592.4" stroke="#000" stroke-width="1.9" />
<line x1="449.6" y1="590" x2="449.6" y2="601.2" stroke="#000" stroke-width="1.9" />
<line x1="444.1" y1="590" x2="455.1" y2="590" stroke="#000" stroke-width="1.9" />
<line x1="444.1" y1="601.2" x2="455.1" y2="601.2" stroke="#000" stroke-width="1.9" />
<line x1="449.6" y1="615.3" x2="449.6" y2="638.9" stroke="#000" stroke-width="1.9" />
<line x1="444.1" y1="615.3" x2="455.1" y2="615.3" stroke="#000" stroke-width="1.9" />
<line x1="444.1" y1="638.9" x2="455.1" y2="638.9" stroke="#000" stroke-width="1.9" />
<line x1="473.4" y1="570" x2="473.4" y2="587.6" stroke="#000" stroke-width="1.9" />
<line x1="467.9" y1="570" x2="478.9" y2="570" stroke="#000" stroke-width="1.9" />
<line x1="467.9" y1="587.6" x2="478.9" y2="587.6" stroke="#000" stroke-width="1.9" />
<line x1="478.3" y1="561.2" x2="478.3" y2="576.8" stroke="#000" stroke-width="1.9" />
<line x1="472.8" y1="561.2" x2="483.8" y2="561.2" stroke="#000" stroke-width="1.9" />
<line x1="472.8" y1="576.8" x2="483.8" y2="576.8" stroke="#000" stroke-width="1.9" />
<line x1="478.3" y1="598.9" x2="478.3" y2="659.2" stroke="#000" stroke-width="1.9" />
<line x1="472.8" y1="598.9" x2="483.8" y2="598.9" stroke="#000" stroke-width="1.9" />
<line x1="472.8" y1="659.2" x2="483.8" y2="659.2" stroke="#000" stroke-width="1.9" />
<line x1="498.3" y1="608" x2="498.3" y2="635.8" stroke="#000" stroke-width="1.9" />
<line x1="492.8" y1="608" x2="503.8" y2="608" stroke="#000" stroke-width="1.9" />
<line x1="492.8" y1="635.8" x2="503.8" y2="635.8" stroke="#000" stroke-width="1.9" />
<line x1="566.3" y1="520.1" x2="566.3" y2="533.8" stroke="#000" stroke-width="1.9" />
<line x1="560.8" y1="520.1" x2="571.8" y2="520.1" stroke="#000" stroke-width="1.9" />
<line x1="560.8" y1="533.8" x2="571.8" y2="533.8" stroke="#000" stroke-width="1.9" />
<line x1="612.7" y1="479.3" x2="612.7" y2="489.3" stroke="#000" stroke-width="1.9" />
<line x1="607.2" y1="479.3" x2="618.2" y2="479.3" stroke="#000" stroke-width="1.9" />
<line x1="607.2" y1="489.3" x2="618.2" y2="489.3" stroke="#000" stroke-width="1.9" />
<line x1="653.9" y1="418" x2="653.9" y2="426.4" stroke="#000" stroke-width="1.9" />
<line x1="648.4" y1="418" x2="659.4" y2="418" stroke="#000" stroke-width="1.9" />
<line x1="648.4" y1="426.4" x2="659.4" y2="426.4" stroke="#000" stroke-width="1.9" />
<line x1="653.9" y1="425" x2="653.9" y2="434.6" stroke="#000" stroke-width="1.9" />
<line x1="648.4" y1="425" x2="659.4" y2="425" stroke="#000" stroke-width="1.9" />
<line x1="648.4" y1="434.6" x2="659.4" y2="434.6" stroke="#000" stroke-width="1.9" />
<line x1="653.9" y1="436.5" x2="653.9" y2="446" stroke="#000" stroke-width="1.9" />
<line x1="648.4" y1="436.5" x2="659.4" y2="436.5" stroke="#000" stroke-width="1.9" />
<line x1="648.4" y1="446" x2="659.4" y2="446" stroke="#000" stroke-width="1.9" />
<line x1="653.9" y1="443" x2="653.9" y2="452" stroke="#000" stroke-width="1.9" />
<line x1="648.4" y1="443" x2="659.4" y2="443" stroke="#000" stroke-width="1.9" />
<line x1="648.4" y1="452" x2="659.4" y2="452" stroke="#000" stroke-width="1.9" />
<line x1="653.9" y1="449" x2="653.9" y2="458.8" stroke="#000" stroke-width="1.9" />
<line x1="648.4" y1="449" x2="659.4" y2="449" stroke="#000" stroke-width="1.9" />
<line x1="648.4" y1="458.8" x2="659.4" y2="458.8" stroke="#000" stroke-width="1.9" />
<line x1="662.8" y1="441" x2="662.8" y2="448" stroke="#000" stroke-width="1.9" />
<line x1="657.3" y1="441" x2="668.3" y2="441" stroke="#000" stroke-width="1.9" />
<line x1="657.3" y1="448" x2="668.3" y2="448" stroke="#000" stroke-width="1.9" />
<line x1="668.6" y1="460.2" x2="668.6" y2="466.2" stroke="#000" stroke-width="1.9" />
<line x1="663.1" y1="460.2" x2="674.1" y2="460.2" stroke="#000" stroke-width="1.9" />
<line x1="663.1" y1="466.2" x2="674.1" y2="466.2" stroke="#000" stroke-width="1.9" />
<line x1="719" y1="434.6" x2="719" y2="437.6" stroke="#000" stroke-width="1.9" />
<line x1="713.5" y1="434.6" x2="724.5" y2="434.6" stroke="#000" stroke-width="1.9" />
<line x1="713.5" y1="437.6" x2="724.5" y2="437.6" stroke="#000" stroke-width="1.9" />
<line x1="782" y1="399.2" x2="782" y2="402.2" stroke="#000" stroke-width="1.9" />
<line x1="776.5" y1="399.2" x2="787.5" y2="399.2" stroke="#000" stroke-width="1.9" />
<line x1="776.5" y1="402.2" x2="787.5" y2="402.2" stroke="#000" stroke-width="1.9" />
<line x1="944.7" y1="379.6" x2="944.7" y2="390.2" stroke="#000" stroke-width="1.9" />
<line x1="939.2" y1="379.6" x2="950.2" y2="379.6" stroke="#000" stroke-width="1.9" />
<line x1="939.2" y1="390.2" x2="950.2" y2="390.2" stroke="#000" stroke-width="1.9" />
<line x1="698.2" y1="142.3" x2="698.2" y2="208.2" stroke="#00B0F0" stroke-width="2.1" />
<line x1="692.7" y1="142.3" x2="703.7" y2="142.3" stroke="#00B0F0" stroke-width="2.1" />
<line x1="692.7" y1="208.2" x2="703.7" y2="208.2" stroke="#00B0F0" stroke-width="2.1" />
<line x1="489" y1="444.2" x2="489" y2="475.9" stroke="#808080" stroke-width="2.1" />
<line x1="483.5" y1="444.2" x2="494.5" y2="444.2" stroke="#808080" stroke-width="2.1" />
<line x1="483.5" y1="475.9" x2="494.5" y2="475.9" stroke="#808080" stroke-width="2.1" />
<line x1="694.2" y1="212.1" x2="694.2" y2="225.9" stroke="#006400" stroke-width="2.1" />
<line x1="688.7" y1="212.1" x2="699.7" y2="212.1" stroke="#006400" stroke-width="2.1" />
<line x1="688.7" y1="225.9" x2="699.7" y2="225.9" stroke="#006400" stroke-width="2.1" />
<line x1="649.7" y1="287.7" x2="649.7" y2="300.8" stroke="#006400" stroke-width="2.1" />
<line x1="644.2" y1="287.7" x2="655.2" y2="287.7" stroke="#006400" stroke-width="2.1" />
<line x1="644.2" y1="300.8" x2="655.2" y2="300.8" stroke="#006400" stroke-width="2.1" />
<line x1="696.8" y1="291.1" x2="696.8" y2="304.6" stroke="#92D050" stroke-width="2.1" />
<line x1="691.3" y1="291.1" x2="702.3" y2="291.1" stroke="#92D050" stroke-width="2.1" />
<line x1="691.3" y1="304.6" x2="702.3" y2="304.6" stroke="#92D050" stroke-width="2.1" />
<line x1="698.6" y1="313.4" x2="698.6" y2="333.2" stroke="#FF0000" stroke-width="2.1" />
<line x1="693.1" y1="313.4" x2="704.1" y2="313.4" stroke="#FF0000" stroke-width="2.1" />
<line x1="693.1" y1="333.2" x2="704.1" y2="333.2" stroke="#FF0000" stroke-width="2.1" />
<line x1="651.4" y1="399.9" x2="651.4" y2="434.3" stroke="#FF0000" stroke-width="2.1" />
<line x1="645.9" y1="399.9" x2="656.9" y2="399.9" stroke="#FF0000" stroke-width="2.1" />
<line x1="645.9" y1="434.3" x2="656.9" y2="434.3" stroke="#FF0000" stroke-width="2.1" />
<line x1="601.8" y1="480.2" x2="601.8" y2="498.7" stroke="#FF0000" stroke-width="2.1" />
<line x1="596.3" y1="480.2" x2="607.3" y2="480.2" stroke="#FF0000" stroke-width="2.1" />
<line x1="596.3" y1="498.7" x2="607.3" y2="498.7" stroke="#FF0000" stroke-width="2.1" />
<line x1="491.7" y1="617.85" x2="491.7" y2="659.5" stroke="#FF0000" stroke-width="2.1" />
<line x1="486.2" y1="617.85" x2="497.2" y2="617.85" stroke="#FF0000" stroke-width="2.1" />
<line x1="486.2" y1="659.5" x2="497.2" y2="659.5" stroke="#FF0000" stroke-width="2.1" />
<line x1="702" y1="356.6" x2="702" y2="397.1" stroke="#FFC000" stroke-width="2.1" />
<line x1="696.5" y1="356.6" x2="707.5" y2="356.6" stroke="#FFC000" stroke-width="2.1" />
<line x1="696.5" y1="397.1" x2="707.5" y2="397.1" stroke="#FFC000" stroke-width="2.1" />
<path d="M226.6 658.7L234.2 666.3L226.6 673.9L219 666.3Z" fill="#fff" stroke="#7030A0" stroke-width="2.3"/>
<path d="M226.6 640.4L234.2 648L226.6 655.6L219 648Z" fill="#fff" stroke="#7030A0" stroke-width="2.3"/>
<path d="M303.3 618.7L310.9 626.3L303.3 633.9L295.7 626.3Z" fill="#fff" stroke="#7030A0" stroke-width="2.3"/>
<path d="M338.2 585.1L345.8 592.7L338.2 600.3L330.6 592.7Z" fill="#fff" stroke="#7030A0" stroke-width="2.3"/>
<path d="M340.5 564.6L348.1 572.2L340.5 579.8L332.9 572.2Z" fill="#fff" stroke="#7030A0" stroke-width="2.3"/>
<path d="M354.6 546.9L362.2 554.5L354.6 562.1L347 554.5Z" fill="#fff" stroke="#7030A0" stroke-width="2.3"/>
<path d="M355.3 559L362.9 566.6L355.3 574.2L347.7 566.6Z" fill="#fff" stroke="#7030A0" stroke-width="2.3"/>
<path d="M354.6 557.9L362.2 565.5L354.6 573.1L347 565.5Z" fill="#fff" stroke="#7030A0" stroke-width="2.3"/>
<path d="M354.6 555.3L362.2 562.9L354.6 570.5L347 562.9Z" fill="#fff" stroke="#7030A0" stroke-width="2.3"/>
<path d="M354.6 551.1L362.2 558.7L354.6 566.3L347 558.7Z" fill="#fff" stroke="#7030A0" stroke-width="2.3"/>
<path d="M365.1 530.4L372.7 538L365.1 545.6L357.5 538Z" fill="#fff" stroke="#7030A0" stroke-width="2.3"/>
<path d="M377.8 523.9L385.4 531.5L377.8 539.1L370.2 531.5Z" fill="#fff" stroke="#7030A0" stroke-width="2.3"/>
<path d="M396.8 515.4L404.4 523L396.8 530.6L389.2 523Z" fill="#fff" stroke="#7030A0" stroke-width="2.3"/>
<path d="M405.9 504L413.5 511.6L405.9 519.2L398.3 511.6Z" fill="#fff" stroke="#7030A0" stroke-width="2.3"/>
<path d="M437.3 495.5L444.9 503.1L437.3 510.7L429.7 503.1Z" fill="#fff" stroke="#7030A0" stroke-width="2.3"/>
<path d="M436.6 480.2L444.2 487.8L436.6 495.4L429 487.8Z" fill="#fff" stroke="#7030A0" stroke-width="2.3"/>
<path d="M418.5 464.8L426.1 472.4L418.5 480L410.9 472.4Z" fill="#fff" stroke="#7030A0" stroke-width="2.3"/>
<path d="M448.5 433.3L456.1 440.9L448.5 448.5L440.9 440.9Z" fill="#fff" stroke="#7030A0" stroke-width="2.3"/>
<path d="M430.3 419.7L437.9 427.3L430.3 434.9L422.7 427.3Z" fill="#fff" stroke="#7030A0" stroke-width="2.3"/>
<path d="M442 366L449.6 373.6L442 381.2L434.4 373.6Z" fill="#fff" stroke="#7030A0" stroke-width="2.3"/>
<path d="M314.9 613.2L322.5 620.8L314.9 628.4L307.3 620.8Z" fill="#fff" stroke="#0000FF" stroke-width="2.3"/>
<path d="M320.2 619.9L327.8 627.5L320.2 635.1L312.6 627.5Z" fill="#fff" stroke="#0000FF" stroke-width="2.3"/>
<path d="M321 620.7L328.6 628.3L321 635.9L313.4 628.3Z" fill="#fff" stroke="#0000FF" stroke-width="2.3"/>
<path d="M341.5 612.7L349.1 620.3L341.5 627.9L333.9 620.3Z" fill="#fff" stroke="#0000FF" stroke-width="2.3"/>
<path d="M348 585.4L355.6 593L348 600.6L340.4 593Z" fill="#fff" stroke="#0000FF" stroke-width="2.3"/>
<path d="M350.7 581.9L358.3 589.5L350.7 597.1L343.1 589.5Z" fill="#fff" stroke="#0000FF" stroke-width="2.3"/>
<path d="M353.4 578.7L361 586.3L353.4 593.9L345.8 586.3Z" fill="#fff" stroke="#0000FF" stroke-width="2.3"/>
<path d="M410.5 541.8L418.1 549.4L410.5 557L402.9 549.4Z" fill="#fff" stroke="#0000FF" stroke-width="2.3"/>
<path d="M426.2 473.9L433.8 481.5L426.2 489.1L418.6 481.5Z" fill="#fff" stroke="#0000FF" stroke-width="2.3"/>
<path d="M438 430.5L445.6 438.1L438 445.7L430.4 438.1Z" fill="#fff" stroke="#0000FF" stroke-width="2.3"/>
<path d="M210.1 694.15L216.7 707.05L203.5 707.05Z" fill="#fff" stroke="#0000FF" stroke-width="2.05" stroke-linejoin="miter"/>
<path d="M259.1 662.25L265.7 675.15L252.5 675.15Z" fill="#fff" stroke="#0000FF" stroke-width="2.05" stroke-linejoin="miter"/>
<path d="M287.6 638.95L294.2 651.85L281 651.85Z" fill="#fff" stroke="#0000FF" stroke-width="2.05" stroke-linejoin="miter"/>
<path d="M307.9 602.65L314.5 615.55L301.3 615.55Z" fill="#fff" stroke="#0000FF" stroke-width="2.05" stroke-linejoin="miter"/>
<path d="M323.9 619.05L330.5 631.95L317.3 631.95Z" fill="#fff" stroke="#0000FF" stroke-width="2.05" stroke-linejoin="miter"/>
<path d="M336.8 611.75L343.4 624.65L330.2 624.65Z" fill="#fff" stroke="#0000FF" stroke-width="2.05" stroke-linejoin="miter"/>
<path d="M348 608.55L354.6 621.45L341.4 621.45Z" fill="#fff" stroke="#0000FF" stroke-width="2.05" stroke-linejoin="miter"/>
<path d="M357.1 600.05L363.7 612.95L350.5 612.95Z" fill="#fff" stroke="#0000FF" stroke-width="2.05" stroke-linejoin="miter"/>
<path d="M365.6 593.05L372.2 605.95L359 605.95Z" fill="#fff" stroke="#0000FF" stroke-width="2.05" stroke-linejoin="miter"/>
<line x1="628.8" y1="376" x2="628.8" y2="386.7" stroke="#92D050" stroke-width="2.2" />
<line x1="623.3" y1="376" x2="634.3" y2="376" stroke="#92D050" stroke-width="2.2" />
<line x1="623.3" y1="386.7" x2="634.3" y2="386.7" stroke="#92D050" stroke-width="2.2" />
<rect x="621.7" y="373.4" width="14.2" height="14.2" fill="#fff" stroke="#92D050" stroke-width="2.5"/>
<circle cx="698.2" cy="168.7" r="8.3" fill="#00B0F0"/>
<circle cx="489" cy="458.4" r="8.3" fill="#808080"/>
<circle cx="694.2" cy="218.9" r="8.3" fill="#006400"/>
<circle cx="649.7" cy="294.3" r="8.3" fill="#006400"/>
<circle cx="696.8" cy="297.7" r="8.3" fill="#92D050"/>
<circle cx="698.6" cy="323.1" r="8.3" fill="#FF0000"/>
<circle cx="651.4" cy="415.6" r="8.3" fill="#FF0000"/>
<circle cx="601.8" cy="488.4" r="8.3" fill="#FF0000"/>
<circle cx="491.7" cy="635.9" r="8.3" fill="#FF0000"/>
<circle cx="702" cy="374.15" r="8.3" fill="#FFC000"/>
<path d="M342.6 649L354.4 660.8M342.6 660.8L354.4 649" fill="none" stroke="#000" stroke-width="2.0" stroke-linecap="round"/>
<path d="M374.8 652.9L386.6 664.7M374.8 664.7L386.6 652.9" fill="none" stroke="#000" stroke-width="2.0" stroke-linecap="round"/>
<path d="M390.4 674.3L402.2 686.1M390.4 686.1L402.2 674.3" fill="none" stroke="#000" stroke-width="2.0" stroke-linecap="round"/>
<path d="M423.6 584.6L435.4 596.4M423.6 596.4L435.4 584.6" fill="none" stroke="#000" stroke-width="2.0" stroke-linecap="round"/>
<path d="M443.7 542.9L455.5 554.7M443.7 554.7L455.5 542.9" fill="none" stroke="#000" stroke-width="2.0" stroke-linecap="round"/>
<path d="M443.7 578.7L455.5 590.5M443.7 590.5L455.5 578.7" fill="none" stroke="#000" stroke-width="2.0" stroke-linecap="round"/>
<path d="M443.7 589.7L455.5 601.5M443.7 601.5L455.5 589.7" fill="none" stroke="#000" stroke-width="2.0" stroke-linecap="round"/>
<path d="M443.7 620.3L455.5 632.1M443.7 632.1L455.5 620.3" fill="none" stroke="#000" stroke-width="2.0" stroke-linecap="round"/>
<path d="M467.5 571.9L479.3 583.7M467.5 583.7L479.3 571.9" fill="none" stroke="#000" stroke-width="2.0" stroke-linecap="round"/>
<path d="M472.4 563.1L484.2 574.9M472.4 574.9L484.2 563.1" fill="none" stroke="#000" stroke-width="2.0" stroke-linecap="round"/>
<path d="M472.4 617.4L484.2 629.2M472.4 629.2L484.2 617.4" fill="none" stroke="#000" stroke-width="2.0" stroke-linecap="round"/>
<path d="M492.4 614.8L504.2 626.6M492.4 626.6L504.2 614.8" fill="none" stroke="#000" stroke-width="2.0" stroke-linecap="round"/>
<path d="M560.4 520.7L572.2 532.5M560.4 532.5L572.2 520.7" fill="none" stroke="#000" stroke-width="2.0" stroke-linecap="round"/>
<path d="M606.8 478.4L618.6 490.2M606.8 490.2L618.6 478.4" fill="none" stroke="#000" stroke-width="2.0" stroke-linecap="round"/>
<path d="M648 416.3L659.8 428.1M648 428.1L659.8 416.3" fill="none" stroke="#000" stroke-width="2.0" stroke-linecap="round"/>
<path d="M648 423.9L659.8 435.7M648 435.7L659.8 423.9" fill="none" stroke="#000" stroke-width="2.0" stroke-linecap="round"/>
<path d="M648 435.3L659.8 447.1M648 447.1L659.8 435.3" fill="none" stroke="#000" stroke-width="2.0" stroke-linecap="round"/>
<path d="M648 441.6L659.8 453.4M648 453.4L659.8 441.6" fill="none" stroke="#000" stroke-width="2.0" stroke-linecap="round"/>
<path d="M648 448L659.8 459.8M648 459.8L659.8 448" fill="none" stroke="#000" stroke-width="2.0" stroke-linecap="round"/>
<path d="M656.9 438.6L668.7 450.4M656.9 450.4L668.7 438.6" fill="none" stroke="#000" stroke-width="2.0" stroke-linecap="round"/>
<path d="M662.7 457.3L674.5 469.1M662.7 469.1L674.5 457.3" fill="none" stroke="#000" stroke-width="2.0" stroke-linecap="round"/>
<path d="M713.1 430.2L724.9 442M713.1 442L724.9 430.2" fill="none" stroke="#000" stroke-width="2.0" stroke-linecap="round"/>
<path d="M776.1 394.8L787.9 406.6M776.1 406.6L787.9 394.8" fill="none" stroke="#000" stroke-width="2.0" stroke-linecap="round"/>
<path d="M938.8 379L950.6 390.8M938.8 390.8L950.6 379" fill="none" stroke="#000" stroke-width="2.0" stroke-linecap="round"/>
<line x1="502.08" y1="610.5" x2="698.6" y2="356.8" stroke="#FF0000" stroke-width="2.6" stroke-dasharray="7.2 9.75" stroke-dashoffset="0" stroke-linecap="round"/>
<line x1="660.21" y1="282.6" x2="695" y2="238.6" stroke="#006400" stroke-width="2.6" stroke-dasharray="7.2 9.75" stroke-dashoffset="0" stroke-linecap="round"/>
</g>
<rect x="134.1" y="15.1" width="488.5" height="304.09999999999997" fill="#fff" stroke="#000" stroke-width="1.9"/>
<path d="M188.9 21.8L195.7 28.6L188.9 35.4L182.1 28.6Z" fill="#fff" stroke="#7030A0" stroke-width="2.2"/>
<text transform="translate(227.5 37.1) scale(1 1.04)" font-size="26.55" text-anchor="start" >McCarthy et al. (W/He = 9E-3)</text>
<path d="M188.9 49.46L195.7 56.26L188.9 63.06L182.1 56.26Z" fill="#fff" stroke="#0000FF" stroke-width="2.2"/>
<text transform="translate(227.5 64.76) scale(1 1.04)" font-size="26.55" text-anchor="start" >McCarthy et al. (W/He = 3E-3)</text>
<path d="M188.9 77.87L195.5 90.77L182.3 90.77Z" fill="#fff" stroke="#0000FF" stroke-width="2.05" stroke-linejoin="miter"/>
<text transform="translate(227.5 92.42) scale(1 1.04)" font-size="26.55" text-anchor="start" >Petty et al. (W/He = 3E-3)</text>
<rect x="181.8" y="104.48" width="14.2" height="14.2" fill="#fff" stroke="#92D050" stroke-width="2.5"/>
<text transform="translate(227.5 120.08) scale(1 1.04)" font-size="26.55" text-anchor="start" >Kajita et al. (W/He = 8E-5)</text>
<circle cx="188.9" cy="139.24" r="8.3" fill="#00B0F0"/>
<text transform="translate(227.5 147.74) scale(1 1.04)" font-size="26.55" text-anchor="start" >this work (W/He = 3.0E-4)</text>
<circle cx="188.9" cy="166.9" r="8.3" fill="#808080"/>
<text transform="translate(227.5 175.4) scale(1 1.04)" font-size="26.55" text-anchor="start" >this work (W/He = 2.2E-4, He-D)</text>
<circle cx="188.9" cy="194.56" r="8.3" fill="#006400"/>
<text transform="translate(227.5 203.06) scale(1 1.04)" font-size="26.55" text-anchor="start" >this work (W/He = 1.5E-4)</text>
<circle cx="188.9" cy="222.22" r="8.3" fill="#92D050"/>
<text transform="translate(227.5 230.72) scale(1 1.04)" font-size="26.55" text-anchor="start" >this work (W/He = 9.3E-5)</text>
<circle cx="188.9" cy="249.88" r="8.3" fill="#FF0000"/>
<text transform="translate(227.5 258.38) scale(1 1.04)" font-size="26.55" text-anchor="start" >this work (W/He ~ 4E-5)</text>
<circle cx="188.9" cy="277.54" r="8.3" fill="#FFC000"/>
<text transform="translate(227.5 286.04) scale(1 1.04)" font-size="26.55" text-anchor="start" >this work (W/He = 2.6E-5)</text>
<path d="M183 299.3L194.8 311.1M183 311.1L194.8 299.3" fill="none" stroke="#000" stroke-width="2.0" stroke-linecap="round"/>
<text transform="translate(227.5 313.7) scale(1 1.04)" font-size="26.55" text-anchor="start" >conventional fuzz (W/He = 0)</text>
<text transform="translate(730 238.8) scale(1 1.04)" font-size="32" text-anchor="start" font-style="italic">L</text>
<text transform="translate(748.6 246.6) scale(1 1.04)" font-size="22.3" text-anchor="start" >fuzz</text>
<text transform="translate(795.8 241) scale(1 1.04)" font-size="41" text-anchor="start" >∝</text>
<text transform="translate(831.5 238.8) scale(1 1.04)" font-size="33" text-anchor="start" >Φ</text>
<text transform="translate(857 247.3) scale(1 1.04)" font-size="22.3" text-anchor="start" >He</text>
<text transform="translate(887.3 229.2) scale(1 1.04)" font-size="21.8" text-anchor="start" >1.28</text>
<text transform="translate(919.8 67.2) scale(1 1.04)" font-size="29.2" text-anchor="start" font-weight="bold">(a)</text>
</g>
<g id="plot-b">
<clipPath id="clipB"><rect x="126.4" y="815.1" width="858.1" height="671.3000000000001"/></clipPath>
<rect x="126.4" y="815.1" width="858.1" height="671.3" fill="none" stroke="#000" stroke-width="2.0"/>
<line x1="126.4" y1="815.1" x2="135.2" y2="815.1" stroke="#000" stroke-width="2.0" />
<line x1="126.4" y1="932.4" x2="132.9" y2="932.4" stroke="#000" stroke-width="2.0" />
<line x1="126.4" y1="902.85" x2="132.9" y2="902.85" stroke="#000" stroke-width="2.0" />
<line x1="126.4" y1="881.88" x2="132.9" y2="881.88" stroke="#000" stroke-width="2.0" />
<line x1="126.4" y1="865.62" x2="132.9" y2="865.62" stroke="#000" stroke-width="2.0" />
<line x1="126.4" y1="852.33" x2="132.9" y2="852.33" stroke="#000" stroke-width="2.0" />
<line x1="126.4" y1="841.1" x2="132.9" y2="841.1" stroke="#000" stroke-width="2.0" />
<line x1="126.4" y1="831.36" x2="132.9" y2="831.36" stroke="#000" stroke-width="2.0" />
<line x1="126.4" y1="822.78" x2="132.9" y2="822.78" stroke="#000" stroke-width="2.0" />
<line x1="126.4" y1="982.93" x2="135.2" y2="982.93" stroke="#000" stroke-width="2.0" />
<line x1="126.4" y1="1100.23" x2="132.9" y2="1100.23" stroke="#000" stroke-width="2.0" />
<line x1="126.4" y1="1070.68" x2="132.9" y2="1070.68" stroke="#000" stroke-width="2.0" />
<line x1="126.4" y1="1049.71" x2="132.9" y2="1049.71" stroke="#000" stroke-width="2.0" />
<line x1="126.4" y1="1033.45" x2="132.9" y2="1033.45" stroke="#000" stroke-width="2.0" />
<line x1="126.4" y1="1020.16" x2="132.9" y2="1020.16" stroke="#000" stroke-width="2.0" />
<line x1="126.4" y1="1008.92" x2="132.9" y2="1008.92" stroke="#000" stroke-width="2.0" />
<line x1="126.4" y1="999.19" x2="132.9" y2="999.19" stroke="#000" stroke-width="2.0" />
<line x1="126.4" y1="990.6" x2="132.9" y2="990.6" stroke="#000" stroke-width="2.0" />
<line x1="126.4" y1="1150.75" x2="135.2" y2="1150.75" stroke="#000" stroke-width="2.0" />
<line x1="126.4" y1="1268.05" x2="132.9" y2="1268.05" stroke="#000" stroke-width="2.0" />
<line x1="126.4" y1="1238.5" x2="132.9" y2="1238.5" stroke="#000" stroke-width="2.0" />
<line x1="126.4" y1="1217.53" x2="132.9" y2="1217.53" stroke="#000" stroke-width="2.0" />
<line x1="126.4" y1="1201.27" x2="132.9" y2="1201.27" stroke="#000" stroke-width="2.0" />
<line x1="126.4" y1="1187.98" x2="132.9" y2="1187.98" stroke="#000" stroke-width="2.0" />
<line x1="126.4" y1="1176.75" x2="132.9" y2="1176.75" stroke="#000" stroke-width="2.0" />
<line x1="126.4" y1="1167.01" x2="132.9" y2="1167.01" stroke="#000" stroke-width="2.0" />
<line x1="126.4" y1="1158.43" x2="132.9" y2="1158.43" stroke="#000" stroke-width="2.0" />
<line x1="126.4" y1="1318.58" x2="135.2" y2="1318.58" stroke="#000" stroke-width="2.0" />
<line x1="126.4" y1="1435.88" x2="132.9" y2="1435.88" stroke="#000" stroke-width="2.0" />
<line x1="126.4" y1="1406.33" x2="132.9" y2="1406.33" stroke="#000" stroke-width="2.0" />
<line x1="126.4" y1="1385.36" x2="132.9" y2="1385.36" stroke="#000" stroke-width="2.0" />
<line x1="126.4" y1="1369.1" x2="132.9" y2="1369.1" stroke="#000" stroke-width="2.0" />
<line x1="126.4" y1="1355.81" x2="132.9" y2="1355.81" stroke="#000" stroke-width="2.0" />
<line x1="126.4" y1="1344.57" x2="132.9" y2="1344.57" stroke="#000" stroke-width="2.0" />
<line x1="126.4" y1="1334.84" x2="132.9" y2="1334.84" stroke="#000" stroke-width="2.0" />
<line x1="126.4" y1="1326.25" x2="132.9" y2="1326.25" stroke="#000" stroke-width="2.0" />
<line x1="126.4" y1="1486.4" x2="135.2" y2="1486.4" stroke="#000" stroke-width="2.0" />
<line x1="126.4" y1="1486.4" x2="126.4" y2="1477.6" stroke="#000" stroke-width="2.0" />
<line x1="255.57" y1="1486.4" x2="255.57" y2="1479.9" stroke="#000" stroke-width="2.0" />
<line x1="331.13" y1="1486.4" x2="331.13" y2="1479.9" stroke="#000" stroke-width="2.0" />
<line x1="384.74" y1="1486.4" x2="384.74" y2="1479.9" stroke="#000" stroke-width="2.0" />
<line x1="426.33" y1="1486.4" x2="426.33" y2="1479.9" stroke="#000" stroke-width="2.0" />
<line x1="460.3" y1="1486.4" x2="460.3" y2="1479.9" stroke="#000" stroke-width="2.0" />
<line x1="489.03" y1="1486.4" x2="489.03" y2="1479.9" stroke="#000" stroke-width="2.0" />
<line x1="513.92" y1="1486.4" x2="513.92" y2="1479.9" stroke="#000" stroke-width="2.0" />
<line x1="535.87" y1="1486.4" x2="535.87" y2="1479.9" stroke="#000" stroke-width="2.0" />
<line x1="555.5" y1="1486.4" x2="555.5" y2="1477.6" stroke="#000" stroke-width="2.0" />
<line x1="684.67" y1="1486.4" x2="684.67" y2="1479.9" stroke="#000" stroke-width="2.0" />
<line x1="760.23" y1="1486.4" x2="760.23" y2="1479.9" stroke="#000" stroke-width="2.0" />
<line x1="813.84" y1="1486.4" x2="813.84" y2="1479.9" stroke="#000" stroke-width="2.0" />
<line x1="855.43" y1="1486.4" x2="855.43" y2="1479.9" stroke="#000" stroke-width="2.0" />
<line x1="889.4" y1="1486.4" x2="889.4" y2="1479.9" stroke="#000" stroke-width="2.0" />
<line x1="918.13" y1="1486.4" x2="918.13" y2="1479.9" stroke="#000" stroke-width="2.0" />
<line x1="943.02" y1="1486.4" x2="943.02" y2="1479.9" stroke="#000" stroke-width="2.0" />
<line x1="964.97" y1="1486.4" x2="964.97" y2="1479.9" stroke="#000" stroke-width="2.0" />
<line x1="984.6" y1="1486.4" x2="984.6" y2="1477.6" stroke="#000" stroke-width="2.0" />
<text transform="translate(101.2 825.1) scale(1 1.04)" font-size="28.8" text-anchor="end" >1000</text>
<text transform="translate(101.2 992.93) scale(1 1.04)" font-size="28.8" text-anchor="end" >100</text>
<text transform="translate(101.2 1160.75) scale(1 1.04)" font-size="28.8" text-anchor="end" >10</text>
<text transform="translate(101.2 1328.58) scale(1 1.04)" font-size="28.8" text-anchor="end" >1</text>
<text transform="translate(101.2 1496.4) scale(1 1.04)" font-size="28.8" text-anchor="end" >0.1</text>
<text transform="translate(127 1530.7) scale(1 1.04)" font-size="28.8" text-anchor="middle" >1E-5</text>
<text transform="translate(556.1 1530.7) scale(1 1.04)" font-size="28.8" text-anchor="middle" >1E-4</text>
<text transform="translate(985.2 1530.7) scale(1 1.04)" font-size="28.8" text-anchor="middle" >1E-3</text>
<text transform="translate(555 1570.2) scale(1 1.04)" font-size="28.7" text-anchor="middle" >W/He ratio</text>
<text transform="translate(20.8 1303) rotate(-90) scale(1 1.04)" font-size="28.7">Fuzz thickness <tspan font-style="italic">L</tspan><tspan font-size="19.3" dy="7.3">fuzz</tspan><tspan dy="-7.3">, µm</tspan></text>
<g clip-path="url(#clipB)">
<line x1="300.5" y1="1192.3" x2="761.05" y2="967.9" stroke="#FF0000" stroke-width="2.6" stroke-dasharray="7.2 9.75" stroke-dashoffset="0" stroke-linecap="round"/>
<line x1="376.1" y1="1221.1" x2="634" y2="1094.8" stroke="#006400" stroke-width="2.6" stroke-dasharray="7.2 9.75" stroke-dashoffset="8.3" stroke-linecap="round"/>
<line x1="404.7" y1="1417.6" x2="700.2" y2="1271.8" stroke="#00B0F0" stroke-width="2.6" stroke-dasharray="7.2 9.75" stroke-dashoffset="0" stroke-linecap="round"/>
<line x1="300.5" y1="1154.9" x2="300.5" y2="1194.45" stroke="#FF0000" stroke-width="2" />
<line x1="295" y1="1154.9" x2="306" y2="1154.9" stroke="#FF0000" stroke-width="2" />
<line x1="295" y1="1194.45" x2="306" y2="1194.45" stroke="#FF0000" stroke-width="2" />
<circle cx="300.5" cy="1171.85" r="8.3" fill="#FF0000"/>
<line x1="442.1" y1="1112.1" x2="442.1" y2="1131.6" stroke="#FF0000" stroke-width="2" />
<line x1="436.6" y1="1112.1" x2="447.6" y2="1112.1" stroke="#FF0000" stroke-width="2" />
<line x1="436.6" y1="1131.6" x2="447.6" y2="1131.6" stroke="#FF0000" stroke-width="2" />
<circle cx="442.1" cy="1121.5" r="8.3" fill="#FF0000"/>
<line x1="540.8" y1="1090.2" x2="540.8" y2="1103.6" stroke="#FF0000" stroke-width="2" />
<line x1="535.3" y1="1090.2" x2="546.3" y2="1090.2" stroke="#FF0000" stroke-width="2" />
<line x1="535.3" y1="1103.6" x2="546.3" y2="1103.6" stroke="#FF0000" stroke-width="2" />
<circle cx="540.8" cy="1096.9" r="8.3" fill="#FF0000"/>
<line x1="626" y1="1012.2" x2="626" y2="1026.3" stroke="#FF0000" stroke-width="2" />
<line x1="620.5" y1="1012.2" x2="631.5" y2="1012.2" stroke="#FF0000" stroke-width="2" />
<line x1="620.5" y1="1026.3" x2="631.5" y2="1026.3" stroke="#FF0000" stroke-width="2" />
<circle cx="626" cy="1019.2" r="8.3" fill="#FF0000"/>
<line x1="761.05" y1="944.4" x2="761.05" y2="1009" stroke="#FF0000" stroke-width="2" />
<line x1="755.55" y1="944.4" x2="766.55" y2="944.4" stroke="#FF0000" stroke-width="2" />
<line x1="755.55" y1="1009" x2="766.55" y2="1009" stroke="#FF0000" stroke-width="2" />
<circle cx="761.05" cy="969.8" r="8.3" fill="#FF0000"/>
<line x1="376.1" y1="1197.1" x2="376.1" y2="1231.9" stroke="#006400" stroke-width="2" />
<line x1="370.6" y1="1197.1" x2="381.6" y2="1197.1" stroke="#006400" stroke-width="2" />
<line x1="370.6" y1="1231.9" x2="381.6" y2="1231.9" stroke="#006400" stroke-width="2" />
<circle cx="376.1" cy="1212.6" r="8.3" fill="#006400"/>
<line x1="634" y1="1086.3" x2="634" y2="1100.3" stroke="#006400" stroke-width="2" />
<line x1="628.5" y1="1086.3" x2="639.5" y2="1086.3" stroke="#006400" stroke-width="2" />
<line x1="628.5" y1="1100.3" x2="639.5" y2="1100.3" stroke="#006400" stroke-width="2" />
<circle cx="634" cy="1093.3" r="8.3" fill="#006400"/>
<line x1="370" y1="1276.1" x2="370" y2="1293.7" stroke="#FFC000" stroke-width="2" />
<line x1="364.5" y1="1276.1" x2="375.5" y2="1276.1" stroke="#FFC000" stroke-width="2" />
<line x1="364.5" y1="1293.7" x2="375.5" y2="1293.7" stroke="#FFC000" stroke-width="2" />
<circle cx="370" cy="1284.7" r="8.3" fill="#FFC000"/>
<line x1="404.7" y1="1411.4" x2="404.7" y2="1452.5" stroke="#00B0F0" stroke-width="2" />
<line x1="399.2" y1="1411.4" x2="410.2" y2="1411.4" stroke="#00B0F0" stroke-width="2" />
<line x1="399.2" y1="1452.5" x2="410.2" y2="1452.5" stroke="#00B0F0" stroke-width="2" />
<circle cx="404.7" cy="1429.3" r="8.3" fill="#00B0F0"/>
<line x1="700.2" y1="1240.6" x2="700.2" y2="1271.4" stroke="#00B0F0" stroke-width="2" />
<line x1="694.7" y1="1240.6" x2="705.7" y2="1240.6" stroke="#00B0F0" stroke-width="2" />
<line x1="694.7" y1="1271.4" x2="705.7" y2="1271.4" stroke="#00B0F0" stroke-width="2" />
<circle cx="700.2" cy="1255.4" r="8.3" fill="#00B0F0"/>
</g>
<rect x="139" y="820.3" width="530.0" height="117.70000000000005" fill="#fff" stroke="#000" stroke-width="1.9"/>
<circle cx="185.4" cy="835.1" r="8.3" fill="#FF0000"/>
<text transform="translate(223.2 843.6) scale(1 1.04)" font-size="26.75" text-anchor="start" >this work (He fluence ~ 3.4E26 m-2)</text>
<circle cx="185.4" cy="864.65" r="8.3" fill="#006400"/>
<text transform="translate(223.2 873.15) scale(1 1.04)" font-size="26.75" text-anchor="start" >this work (He fluence = 1.7E26 m-2)</text>
<circle cx="185.4" cy="894.2" r="8.3" fill="#FFC000"/>
<text transform="translate(223.2 902.7) scale(1 1.04)" font-size="26.75" text-anchor="start" >this work (He fluence = 0.86E25 m-2)</text>
<circle cx="185.4" cy="923.75" r="8.3" fill="#00B0F0"/>
<text transform="translate(223.2 932.25) scale(1 1.04)" font-size="26.75" text-anchor="start" >this work (He fluence = 0.18E26 m-2)</text>
<text transform="translate(731 1080.9) scale(1 1.04)" font-size="32" text-anchor="start" font-style="italic">L</text>
<text transform="translate(749.2 1088.5) scale(1 1.04)" font-size="22.3" text-anchor="start" >fuzz</text>
<text transform="translate(795.8 1083) scale(1 1.04)" font-size="41" text-anchor="start" >∝</text>
<text transform="translate(833.3 1087.2) scale(0.62 1.05)" font-size="60" style='font-family:"Liberation Serif", "DejaVu Serif", serif'>(</text>
<text transform="translate(883.6 1087.2) scale(0.62 1.05)" font-size="60" style='font-family:"Liberation Serif", "DejaVu Serif", serif'>)</text>
<text transform="translate(864.4 1060.4) scale(1.04 0.97)" font-size="24.5" text-anchor="middle" style='font-family:"Liberation Serif", "DejaVu Serif", serif' >W</text>
<text transform="translate(865.8 1097.2) scale(1.04 0.97)" font-size="24.5" text-anchor="middle" style='font-family:"Liberation Serif", "DejaVu Serif", serif' >He</text>
<line x1="849.2" y1="1070.8" x2="881.5" y2="1070.8" stroke="#000" stroke-width="1.9" />
<text transform="translate(899.2 1064) scale(1 1.04)" font-size="21.8" text-anchor="start" >1.28</text>
<text transform="translate(907.2 866.5) scale(1 1.04)" font-size="29.2" text-anchor="start" font-weight="bold">(b)</text>
</g>
</svg></body></html>
